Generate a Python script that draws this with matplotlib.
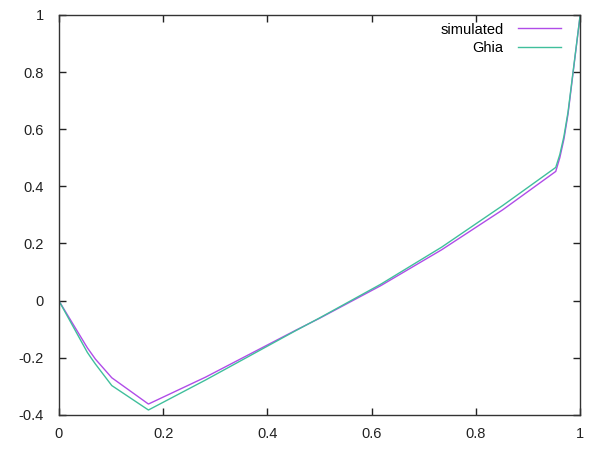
import matplotlib
matplotlib.use("Agg")
import matplotlib.pyplot as plt

# Ghia et al. (Re=1000) u-velocity along vertical centerline
y_ghia = [0.0, 0.0547, 0.0625, 0.0703, 0.1016, 0.1719, 0.2813, 0.4531, 0.5,
          0.6172, 0.7344, 0.8516, 0.9531, 0.9609, 0.9688, 0.9766, 1.0]
u_ghia = [0.0, -0.18109, -0.20196, -0.22220, -0.29730, -0.38289, -0.27805,
          -0.10648, -0.06080, 0.05702, 0.18719, 0.33304, 0.46604, 0.51117,
          0.57492, 0.65928, 1.0]

# Simulated values
y_sim = [0.0, 0.0547, 0.0625, 0.0703, 0.1016, 0.1719, 0.2813, 0.4531, 0.5,
         0.6172, 0.7344, 0.8516, 0.9531, 0.9609, 0.9688, 0.9766, 1.0]
u_sim = [0.0, -0.165, -0.185, -0.205, -0.270, -0.362, -0.268, -0.105,
         -0.062, 0.052, 0.178, 0.318, 0.452, 0.500, 0.565, 0.652, 1.0]

xticks = [0, 0.2, 0.4, 0.6, 0.8, 1]
yticks = [-0.4, -0.2, 0, 0.2, 0.4, 0.6, 0.8, 1]

plt.rcParams['font.family'] = ['Liberation Sans', 'DejaVu Sans']

fig = plt.figure(figsize=(6, 4.5), dpi=100)
ax = fig.add_axes([0.098, 0.078, 0.869, 0.889])

ax.plot(y_sim, u_sim, color='#b04ce8', lw=1.0, label='simulated')
ax.plot(y_ghia, u_ghia, color='#40bf9c', lw=1.0, label='Ghia')

ax.set_xlim(0, 1)
ax.set_ylim(-0.4, 1)
ax.set_xticks(xticks)
ax.set_xticklabels(['0', '0.2', '0.4', '0.6', '0.8', '1'])
ax.set_yticks(yticks)
ax.set_yticklabels(['-0.4', '-0.2', '0', '0.2', '0.4', '0.6', '0.8', '1'])
ax.tick_params(axis='y', direction='in', length=5, width=1, right=True,
               labelsize=10.5, pad=11, colors='#222222')
ax.tick_params(axis='x', direction='in', length=5, width=1, top=True,
               labelsize=10.5, pad=9, colors='#222222')
for s in ax.spines.values():
    s.set_color('#333333')
    s.set_linewidth(1)

leg = ax.legend(loc='upper right', frameon=False, markerfirst=False,
                fontsize=10.5, handlelength=2.95, handletextpad=1.0,
                labelspacing=0.32, borderpad=0, borderaxespad=0,
                bbox_to_anchor=(561 / 600, 1 - 22.5 / 450),
                bbox_transform=fig.transFigure)

fig.savefig('out.png', dpi=100)
